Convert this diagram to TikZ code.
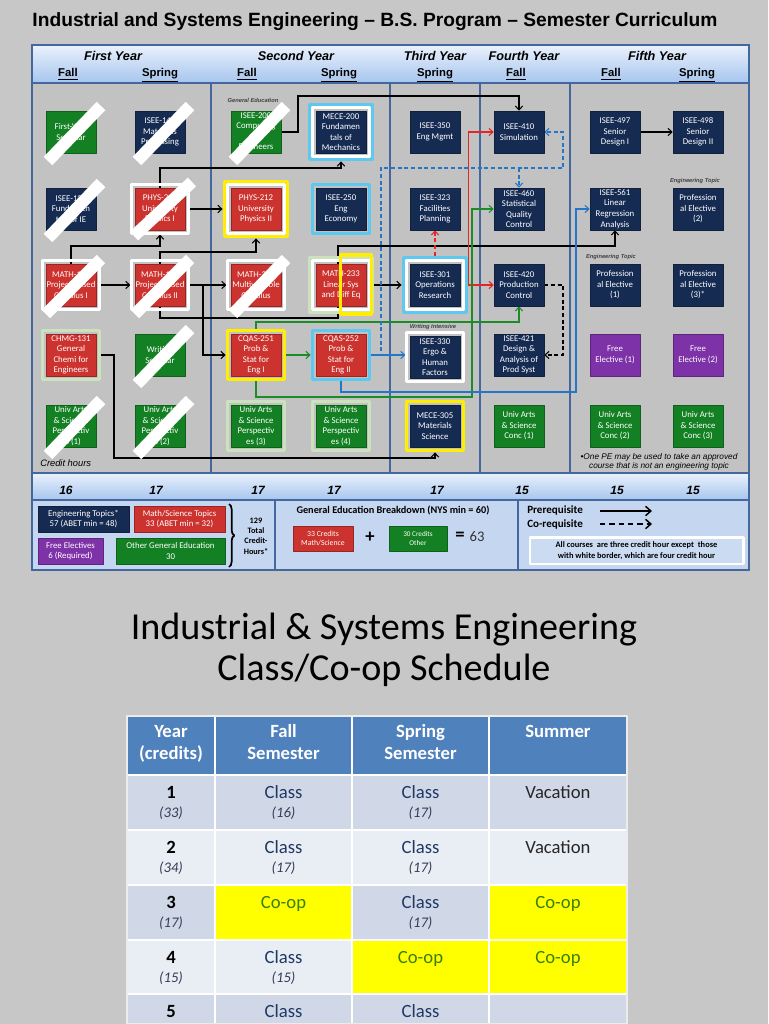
\documentclass[tikz,border=0pt]{standalone}
\usepackage{fontspec}
\setmainfont{Carlito}
\newfontfamily\headfont{Liberation Sans}
\usetikzlibrary{arrows.meta,calc,fit,shadows,decorations.pathreplacing}

\definecolor{bgslide}{RGB}{199,199,199}
\definecolor{bgpanel}{RGB}{194,194,194}
\definecolor{panelline}{RGB}{68,104,158}
\definecolor{bandhi}{RGB}{234,241,252}
\definecolor{bandlo}{RGB}{166,197,238}
\definecolor{legfill}{RGB}{197,215,240}
\definecolor{cnavy}{RGB}{22,43,82}
\definecolor{cred}{RGB}{204,50,46}
\definecolor{cgreen}{RGB}{20,128,36}
\definecolor{cpurple}{RGB}{126,50,168}
\definecolor{ccyan}{RGB}{95,200,240}
\definecolor{cyellow}{RGB}{255,238,0}
\definecolor{cpale}{RGB}{204,226,190}
\definecolor{wred}{RGB}{228,38,38}
\definecolor{wgreen}{RGB}{28,140,40}
\definecolor{wblue}{RGB}{36,118,200}
\definecolor{thead}{RGB}{79,129,189}
\definecolor{tdark}{RGB}{208,216,232}
\definecolor{tlight}{RGB}{233,237,244}
\definecolor{tclass}{RGB}{31,56,100}
\definecolor{tsub}{RGB}{52,60,86}
\definecolor{tcoop}{RGB}{56,128,10}
\definecolor{tyellow}{RGB}{255,255,0}

\pgfdeclarelayer{bg}
\pgfdeclarelayer{wires}
\pgfsetlayers{bg,wires,main}

\newcommand{\squeezed}[1]{\makebox[0pt]{#1}}

\begin{document}
\begin{tikzpicture}[
  x=0.75pt, y=-0.75pt,
  >={Straight Barb[length=3pt,width=5.5pt]},
  line join=round,
  every node/.style={inner sep=0pt},
  course/.style={rectangle, fill=#1, draw=#1!75!black, line width=0.4pt,
    minimum width=37.5pt, minimum height=31.5pt, text=white, align=center,
    font=\fontsize{6.6}{7.9}\selectfont,
    drop shadow={shadow xshift=0.9pt, shadow yshift=-0.9pt, opacity=0.45}},
  legbox/.style={rectangle, fill=#1, draw=#1!75!black, line width=0.4pt,
    text=white, align=center, font=\fontsize{6.6}{7.8}\selectfont,
    drop shadow={shadow xshift=0.9pt, shadow yshift=-0.9pt, opacity=0.45}},
  wring/.style={draw=white, line width=2.2pt, inner sep=2.1pt},
  ring/.style={draw=#1, line width=2.4pt, inner sep=2.6pt},
  oring/.style={draw=#1, line width=2.4pt, inner sep=4.9pt},
  strike/.style={draw=white, line width=9pt, line cap=butt},
  wire/.style={->, line width=0.8pt},
  coreq/.style={->, line width=0.8pt, dash pattern=on 3pt off 2pt},
  tag/.style={font=\headfont\bfseries\itshape\fontsize{4.3}{5}\selectfont, text=black!75},
  yearhd/.style={anchor=base, font=\headfont\bfseries\itshape\fontsize{9.5}{11}\selectfont},
  semhd/.style={anchor=base, font=\headfont\bfseries\fontsize{8.5}{10}\selectfont},
  credit/.style={anchor=base, font=\headfont\bfseries\itshape\fontsize{9}{10}\selectfont},
  thd/.style={anchor=base, text=white, font=\bfseries\fontsize{14}{17}\selectfont},
  yrno/.style={anchor=base, font=\bfseries\fontsize{14}{17}\selectfont},
  cls/.style={anchor=base, text=tclass, font=\fontsize{14}{17}\selectfont},
  coop/.style={anchor=base, text=tcoop, font=\fontsize{14}{17}\selectfont},
  vac/.style={anchor=base, text=black!85, font=\fontsize{14}{17}\selectfont},
  sub/.style={anchor=base, text=tsub, font=\itshape\fontsize{11}{13}\selectfont}
]
  \useasboundingbox (0,0) rectangle (768,1024);

  % Slide and curriculum panel
  \begin{pgfonlayer}{bg}
    \fill[bgslide] (0,0) rectangle (768,1024);
    \fill[bgpanel] (32,83) rectangle (749,473);
    \shade[top color=bandhi, bottom color=bandlo] (32,45) rectangle (749,83);
    \shade[top color=bandhi, bottom color=bandlo] (32,473) rectangle (749,500);
    \fill[legfill] (32,500) rectangle (749,570);
    \draw[panelline, line width=1.2pt] (32,45) rectangle (749,570);
    \draw[panelline, line width=1.2pt] (32,83) -- (749,83) (32,473) -- (749,473) (32,500) -- (749,500);
    \draw[panelline, line width=1.2pt] (211,83) -- (211,473) (390,83) -- (390,473)
      (480,83) -- (480,473) (570,83) -- (570,473);
    \draw[panelline, line width=1.2pt] (275,500) -- (275,570) (518,500) -- (518,570);
  \end{pgfonlayer}

  \node[anchor=base, font=\headfont\bfseries\fontsize{14.4}{16}\selectfont] (title) at (375,27)
    {Industrial and Systems Engineering – B.S. Program – Semester Curriculum};

  % Year and semester headings
  \node[yearhd] (yr1) at (113,61) {First Year};
  \node[yearhd] (yr2) at (296,61) {Second Year};
  \node[yearhd] (yr3) at (435,61) {Third Year};
  \node[yearhd] (yr4) at (524,61) {Fourth Year};
  \node[yearhd] (yr5) at (657,61) {Fifth Year};
  \node[semhd] (sem1) at (68,77) {\underline{Fall}};
  \node[semhd] (sem2) at (160,77) {\underline{Spring}};
  \node[semhd] (sem3) at (247,77) {\underline{Fall}};
  \node[semhd] (sem4) at (339,77) {\underline{Spring}};
  \node[semhd] (sem5) at (435,77) {\underline{Spring}};
  \node[semhd] (sem6) at (516,77) {\underline{Fall}};
  \node[semhd] (sem7) at (611,77) {\underline{Fall}};
  \node[semhd] (sem8) at (697,77) {\underline{Spring}};

  % First year
  \node[course=cgreen] (fys) at (71,132) {First-Year\\Seminar};
  \node[course=cnavy] (isee140) at (160,132) {ISEE-140\\Materials\\Processing};
  \node[course=cnavy] (isee120) at (71,209) {ISEE-120\\Fundamen\\tals of IE};
  \node[course=cred] (phys211) at (160,209) {PHYS-211\\University\\Physics I};
  \node[course=cred] (math181) at (71,285) {MATH-181\\\squeezed{Project-based}\\Calculus I};
  \node[course=cred] (math182) at (160,285) {MATH-182\\\squeezed{Project-based}\\Calculus II};
  \node[course=cred] (chmg131) at (71,355) {CHMG-131\\General\\Chemi for\\Engineers};
  \node[course=cgreen] (wsem) at (160,355) {Writing\\Seminar};
  \node[course=cgreen] (perspA) at (71,426) {Univ Arts\\\& Science\\Perspectiv\\es (1)};
  \node[course=cgreen] (perspB) at (160,426) {Univ Arts\\\& Science\\Perspectiv\\es (2)};

  % Second year
  \node[course=cgreen] (isee200) at (256,132) {ISEE-200\\Computing\\for\\Engineers};
  \node[course=cnavy] (mece200) at (341,132) {MECE-200\\Fundamen\\tals of\\Mechanics};
  \node[course=cred] (phys212) at (256,209) {PHYS-212\\University\\Physics II};
  \node[course=cnavy] (isee250) at (341,209) {ISEE-250\\Eng\\Economy};
  \node[course=cred] (math221) at (256,285) {MATH-221\\\squeezed{Multivariable}\\Calculus};
  \node[course=cred] (math233) at (341,285) {MATH-233\\Linear Sys\\and Diff Eq};
  \node[course=cred] (cqas251) at (256,355) {CQAS-251\\Prob \&\\Stat for\\Eng I};
  \node[course=cred] (cqas252) at (341,355) {CQAS-252\\Prob \&\\Stat for\\Eng II};
  \node[course=cgreen] (perspC) at (256,426) {Univ Arts\\\& Science\\Perspectiv\\es (3)};
  \node[course=cgreen] (perspD) at (341,426) {Univ Arts\\\& Science\\Perspectiv\\es (4)};

  % Third year
  \node[course=cnavy] (isee350) at (435,132) {ISEE-350\\Eng Mgmt};
  \node[course=cnavy] (isee323) at (435,209) {ISEE-323\\Facilities\\Planning};
  \node[course=cnavy] (isee301) at (435,285) {ISEE-301\\Operations\\Research};
  \node[course=cnavy] (isee330) at (435,357) {ISEE-330\\Ergo \&\\Human\\Factors};
  \node[course=cnavy] (mece305) at (435,426) {MECE-305\\Materials\\Science};

  % Fourth year
  \node[course=cnavy] (isee410) at (519,132) {ISEE-410\\Simulation};
  \node[course=cnavy] (isee460) at (519,209) {ISEE-460\\Statistical\\Quality\\Control};
  \node[course=cnavy] (isee420) at (519,285) {ISEE-420\\Production\\Control};
  \node[course=cnavy] (isee421) at (519,355) {ISEE-421\\Design \&\\Analysis of\\Prod Syst};
  \node[course=cgreen] (concA) at (519,426) {Univ Arts\\\& Science\\Conc (1)};

  % Fifth year
  \node[course=cnavy] (isee497) at (615,132) {ISEE-497\\Senior\\Design I};
  \node[course=cnavy] (isee498) at (698,132) {ISEE-498\\Senior\\Design II};
  \node[course=cnavy] (isee561) at (615,209) {ISEE-561\\Linear\\Regression\\Analysis};
  \node[course=cnavy] (profB) at (698,209) {Profession\\al Elective\\(2)};
  \node[course=cnavy] (profA) at (615,285) {Profession\\al Elective\\(1)};
  \node[course=cnavy] (profC) at (698,285) {Profession\\al Elective\\(3)*};
  \node[course=cpurple] (freeA) at (615,355) {Free\\Elective (1)};
  \node[course=cpurple] (freeB) at (698,355) {Free\\Elective (2)};
  \node[course=cgreen] (concB) at (615,426) {Univ Arts\\\& Science\\Conc (2)};
  \node[course=cgreen] (concC) at (698,426) {Univ Arts\\\& Science\\Conc (3)};

  % Four credit (white) and highlight borders
  \node[wring, fit=(phys211)] (phys211w) {};
  \node[wring, fit=(math181)] (math181w) {};
  \node[wring, fit=(math182)] (math182w) {};
  \node[ring=cpale, fit=(chmg131)] (chmg131g) {};
  \node[wring, fit=(mece200)] (mece200w) {};
  \node[oring=ccyan, fit=(mece200)] (mece200o) {};
  \node[wring, fit=(phys212)] (phys212w) {};
  \node[oring=cyellow, fit=(phys212)] (phys212o) {};
  \node[ring=ccyan, fit=(isee250)] (isee250c) {};
  \node[wring, fit=(math221)] (math221w) {};
  \node[wring, fit=(math233)] (math233w) {};
  \node[oring=cpale, fit=(math233)] (math233o) {};
  \draw[cyellow, line width=2.4pt] (340.5,255) rectangle (371.5,314);
  \node[ring=cyellow, fit=(cqas251)] (cqas251y) {};
  \node[ring=ccyan, fit=(cqas252)] (cqas252c) {};
  \node[ring=cpale, fit=(perspC)] (perspCg) {};
  \node[ring=cpale, fit=(perspD)] (perspDg) {};
  \node[wring, fit=(isee301)] (isee301w) {};
  \node[oring=ccyan, fit=(isee301)] (isee301o) {};
  \node[wring, fit=(isee330)] (isee330w) {};
  \node[ring=cyellow, fit=(mece305)] (mece305y) {};

  % Tags above boxes
  \node[tag] (gentag) at (253,100) {General Education};
  \node[tag] (writag) at (433,327.5) {Writing Intensive};
  \node[tag] (engtagB) at (695,181) {Engineering Topic};
  \node[tag] (engtagA) at (611,257) {Engineering Topic};
  \node[anchor=base west, font=\headfont\itshape\fontsize{7}{8}\selectfont] (crhrs) at (40,466) {Credit hours};
  \node[align=center, font=\headfont\itshape\fontsize{6.2}{6.8}\selectfont] (penote) at (659,462)
    {•One PE may be used to take an approved\\course that is not an engineering topic};

  % Prerequisite and co-requisite lines
  \begin{pgfonlayer}{wires}
    \draw[wire] (isee200.east) -- (298,132) -- (298,96) -| (isee410.north);
    \draw[wire] (phys211.north) -- (160,168) -| (mece200o.south);
    \draw[wire] (phys211w.east) -- (phys212o.west);
    \draw[wire] (math181.north) -- (71,246) -| (phys211w.south);
    \draw[wire] (math181w.east) -- (math182w.west);
    \draw[wire] (math182.north) -- (160,252) -| (phys212o.south);
    \draw[wire] (math182w.east) -- (math221w.west);
    \draw[wire] (math182w.east) -- (203,285) |- (cqas251y.west);
    \draw[wire] (math182.south) -- (160,318) -- (338,318) -- (338,246) -| (isee561.south);
    \draw[wire] (chmg131g.east) -- (114,355) |- (435,458) -- (mece305y.south);
    \draw[wire] (math233o.east) -- (isee301o.west);
    \draw[wire] (isee497.east) -- (isee498.west);

    \draw[wire, wred] (isee301o.east) -- (isee420.west);
    \draw[wire, wred] (isee301o.east) |- (isee410.west);
    \draw[coreq, wred] (isee301o.north) -- (isee323.south);

    \draw[wire, wgreen] (cqas251y.north) -- (256,322) -| (isee420.south);
    \draw[wire, wgreen] (cqas251y.east) -- (cqas252c.west);
    \draw[wire, wgreen] (cqas251y.south) -- (256,397) -| (472,209) -- (isee460.west);

    \draw[wire, wblue] (cqas252c.east) -- (isee330w.west |- cqas252c.east);
    \draw[wire, wblue] (cqas252c.south) -- (341,392) -| (576,209) -- (isee561.west);
    \draw[coreq, wblue] (cqas252c.east) -- (381,355) |- (563,168) |- (isee410.east);
    \draw[coreq, wblue] (519,168) -- (isee460.north);
    \draw[coreq] (isee420.east) -- (563,285) |- (isee421.east);
  \end{pgfonlayer}

  % Dropped courses
  \draw[strike] ($(fys)+(-23,29)$) -- ($(fys)+(30,-26)$);
  \draw[strike] ($(isee140)+(-23,29)$) -- ($(isee140)+(30,-26)$);
  \draw[strike] ($(isee120)+(-23,29)$) -- ($(isee120)+(30,-26)$);
  \draw[strike] ($(phys211)+(-26,27)$) -- ($(phys211)+(32,-27)$);
  \draw[strike] ($(math181)+(-25,29)$) -- ($(math181)+(30,-26)$);
  \draw[strike] ($(math182)+(-25,29)$) -- ($(math182)+(30,-26)$);
  \draw[strike] ($(wsem)+(-23,29)$) -- ($(wsem)+(30,-26)$);
  \draw[strike] ($(perspA)+(-23,29)$) -- ($(perspA)+(30,-26)$);
  \draw[strike] ($(perspB)+(-23,29)$) -- ($(perspB)+(30,-26)$);
  \draw[strike] ($(isee200)+(-23,29)$) -- ($(isee200)+(30,-26)$);
  \draw[strike] ($(math221)+(-23,29)$) -- ($(math221)+(30,-26)$);

  % Credit hours per semester
  \node[credit] (cr1) at (66,494) {16};
  \node[credit] (cr2) at (156,494) {17};
  \node[credit] (cr3) at (258,494) {17};
  \node[credit] (cr4) at (334,494) {17};
  \node[credit] (cr5) at (437,494) {17};
  \node[credit] (cr6) at (522,494) {15};
  \node[credit] (cr7) at (617,494) {15};
  \node[credit] (cr8) at (693,494) {15};

  % Credit breakdown
  \node[legbox=cnavy, minimum width=68pt, minimum height=19.5pt] (engtop) at (83.5,519)
    {Engineering Topics*\\57 (ABET min = 48)};
  \node[legbox=cred, minimum width=68pt, minimum height=19.5pt] (mathtop) at (179.5,519)
    {Math/Science Topics\\33 (ABET min = 32)};
  \node[legbox=cpurple, minimum width=48.75pt, minimum height=19.5pt] (freeel) at (70.5,551)
    {Free Electives\\6 (Required)};
  \node[legbox=cgreen, minimum width=81.75pt, minimum height=19.5pt] (othered) at (170.5,551)
    {Other General Education\\30};
  \coordinate (brtop) at (229,504);
  \coordinate (brbot) at (229,567);
  \draw[decorate, decoration={brace, amplitude=4pt}, line width=1.3pt] (brtop) -- (brbot);
  \node[align=center, font=\bfseries\fontsize{6.2}{7.8}\selectfont] (totalhrs) at (256,536)
    {129\\Total\\Credit-\\Hours*};

  % General education
  \node[anchor=base, font=\bfseries\fontsize{7.7}{9}\selectfont] (genedtitle) at (393,513)
    {General Education Breakdown (NYS min = 60)};
  \node[legbox=cred, minimum width=45pt, minimum height=18.75pt, font=\fontsize{5.8}{7}\selectfont] (mathsci)
    at (323,538.5) {33 Credits\\Math/Science};
  \node[font=\bfseries\fontsize{14}{14}\selectfont] (plus) at (370,537) {+};
  \node[legbox=cgreen, minimum width=43.5pt, minimum height=18.75pt, font=\fontsize{5.4}{7}\selectfont] (other30)
    at (418,538.5) {30 Credits\\Other};
  \node[font=\bfseries\fontsize{14}{14}\selectfont] (equals) at (460,536) {=};
  \node[font=\fontsize{11}{12}\selectfont, text=black!80] (total63) at (477,537) {63};

  % Key
  \node[anchor=base west, font=\bfseries\fontsize{8.3}{9}\selectfont] (prereq) at (527,513) {Prerequisite};
  \node[anchor=base west, font=\bfseries\fontsize{8.3}{9}\selectfont] (coreqlbl) at (527,527) {Co-requisite};
  \coordinate (preA) at (600,511);
  \coordinate (preB) at (652,511);
  \coordinate (coA) at (600,524);
  \coordinate (coB) at (652,524);
  \draw[->, >={Straight Barb[length=4pt,width=7pt]}, line width=1.1pt] (preA) -- (preB);
  \draw[->, >={Straight Barb[length=4pt,width=7pt]}, line width=1.1pt, dash pattern=on 4pt off 3pt] (coA) -- (coB);
  \node[draw=white, line width=2pt, fill=legfill!90!white, minimum width=160pt, minimum height=20pt,
    align=center, font=\bfseries\fontsize{6.3}{8.2}\selectfont] (notebox) at (636.5,550.5)
    {All courses\ \ are three credit hour except\ \ those\\with white border, which are four credit hour};

  % Class/Co-op schedule
  \node[anchor=base, font=\fontsize{28.6}{34}\selectfont] (schedA) at (384,639) {Industrial \& Systems Engineering};
  \node[anchor=base, font=\fontsize{28.6}{34}\selectfont] (schedB) at (384,680) {Class/Co-op Schedule};

  \fill[thead] (127,716) rectangle (627,775);
  \fill[tdark] (127,775) rectangle (627,830);
  \fill[tlight] (127,830) rectangle (627,885);
  \fill[tdark] (127,885) rectangle (627,940);
  \fill[tlight] (127,940) rectangle (627,994);
  \fill[tdark] (127,994) rectangle (627,1024);
  \fill[tyellow] (215,885) rectangle (352,940) (489,885) rectangle (627,940) (352,940) rectangle (627,994);
  \draw[white, line width=0.9pt] (215,716) -- (215,1024) (352,716) -- (352,1024) (489,716) -- (489,1024);
  \draw[white, line width=0.9pt] (127,830) -- (627,830) (127,885) -- (627,885)
    (127,940) -- (627,940) (127,994) -- (627,994);
  \draw[white, line width=2.2pt] (127,775) -- (627,775);
  \draw[white!85!gray, line width=0.8pt] (127,716) rectangle (627,1024);

  \node[thd] (hyear) at (171,737) {Year};
  \node[thd] (hcred) at (171,759) {(credits)};
  \node[thd] (hfall) at (283.5,737) {Fall};
  \node[thd] (hfallb) at (283.5,759) {Semester};
  \node[thd] (hspr) at (420.5,737) {Spring};
  \node[thd] (hsprb) at (420.5,759) {Semester};
  \node[thd] (hsum) at (558,737) {Summer};

  \node[yrno] (yr1no) at (171,798) {1};
  \node[sub] (yr1cr) at (171,817) {(33)};
  \node[cls] (fa1) at (283.5,798) {Class};
  \node[sub] (fa1cr) at (283.5,817) {(16)};
  \node[cls] (sp1) at (420.5,798) {Class};
  \node[sub] (sp1cr) at (420.5,817) {(17)};
  \node[vac] (su1) at (558,798) {Vacation};

  \node[yrno] (yr2no) at (171,853) {2};
  \node[sub] (yr2cr) at (171,872) {(34)};
  \node[cls] (fa2) at (283.5,853) {Class};
  \node[sub] (fa2cr) at (283.5,872) {(17)};
  \node[cls] (sp2) at (420.5,853) {Class};
  \node[sub] (sp2cr) at (420.5,872) {(17)};
  \node[vac] (su2) at (558,853) {Vacation};

  \node[yrno] (yr3no) at (171,908) {3};
  \node[sub] (yr3cr) at (171,927) {(17)};
  \node[coop] (fa3) at (283.5,908) {Co-op};
  \node[cls] (sp3) at (420.5,908) {Class};
  \node[sub] (sp3cr) at (420.5,927) {(17)};
  \node[coop] (su3) at (558,908) {Co-op};

  \node[yrno] (yr4no) at (171,963) {4};
  \node[sub] (yr4cr) at (171,982) {(15)};
  \node[cls] (fa4) at (283.5,963) {Class};
  \node[sub] (fa4cr) at (283.5,982) {(15)};
  \node[coop] (sp4) at (420.5,963) {Co-op};
  \node[coop] (su4) at (558,963) {Co-op};

  \node[yrno] (yr5no) at (171,1017) {5};
  \node[cls] (fa5) at (283.5,1017) {Class};
  \node[cls] (sp5) at (420.5,1017) {Class};
\end{tikzpicture}
\end{document}
